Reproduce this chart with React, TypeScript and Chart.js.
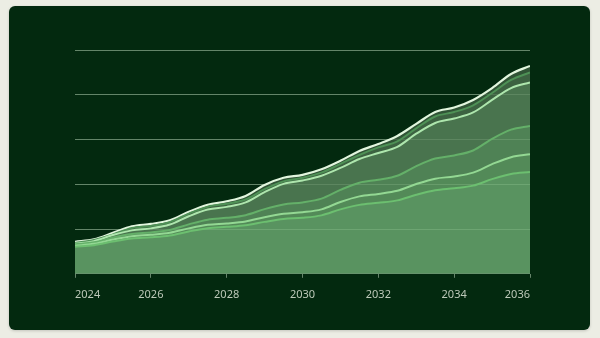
import React, { useEffect, useRef } from "react";
import { Chart, registerables } from "chart.js";

Chart.register(...registerables);

const YEARS = [
  2024, 2024.5, 2025, 2025.5, 2026, 2026.5, 2027, 2027.5, 2028, 2028.5, 2029, 2029.5,
  2030, 2030.5, 2031, 2031.5, 2032, 2032.5, 2033, 2033.5, 2034, 2034.5, 2035, 2035.5, 2036,
];

const SERIES_1 = [12.1, 12.8, 14.4, 15.8, 16.3, 17.1, 18.9, 20.4, 21.0, 21.7, 23.2, 24.5, 25.0, 26.1, 28.8, 30.8, 31.7, 32.8, 35.3, 37.3, 38.2, 39.4, 42.3, 44.6, 45.5];
const SERIES_2 = [12.5, 13.4, 15.3, 16.8, 17.4, 18.3, 20.3, 21.9, 22.5, 23.4, 25.3, 26.8, 27.5, 28.8, 32.1, 34.6, 35.7, 37.1, 40.1, 42.5, 43.5, 45.2, 49.0, 52.1, 53.4];
const SERIES_3 = [13.2, 14.1, 16.2, 17.8, 18.5, 19.6, 22.1, 24.2, 25.0, 26.2, 28.9, 31.0, 31.9, 33.6, 37.5, 40.7, 42.0, 43.8, 48.1, 51.5, 52.9, 55.1, 60.3, 64.4, 66.1];
const SERIES_4 = [13.4, 14.6, 17.3, 19.4, 20.3, 22.0, 25.7, 28.7, 29.9, 31.9, 36.5, 40.2, 41.7, 43.8, 47.3, 51.3, 54.0, 56.7, 62.6, 67.4, 69.4, 72.1, 77.7, 83.0, 85.5];
const SERIES_5 = [13.8, 15.1, 17.6, 20.5, 21.4, 23.1, 26.9, 30.0, 31.3, 33.2, 37.8, 41.3, 42.9, 45.2, 49.1, 53.1, 56.5, 59.2, 65.0, 70.3, 72.3, 75.3, 80.8, 86.6, 90.0];
const SERIES_6 = [14.3, 15.4, 18.3, 21.2, 22.3, 23.9, 27.7, 30.8, 32.4, 34.8, 39.7, 42.9, 44.2, 46.7, 50.5, 54.9, 58.0, 61.6, 67.0, 72.3, 74.3, 77.7, 83.0, 89.3, 92.9];

const SERIES = [SERIES_1, SERIES_2, SERIES_3, SERIES_4, SERIES_5, SERIES_6];
const LINE_COLORS = ["#6cbf70", "#93d893", "#64b069", "#ade6ad", "#4e9156", "#e2f6de"];
const FILL_COLORS = [
  "rgba(111,174,116,0.8)",
  "rgba(104,162,106,0.8)",
  "rgba(99,152,102,0.8)",
  "rgba(91,135,94,0.8)",
  "rgba(75,113,77,0.8)",
  "rgba(60,95,64,0.8)",
];

export default function App() {
  const ref = useRef<HTMLCanvasElement | null>(null);

  useEffect(() => {
    if (!ref.current) return;
    const chart = new Chart(ref.current, {
      type: "line",
      data: {
        datasets: SERIES.map((s, i) => ({
          data: s.map((v, j) => ({ x: YEARS[j], y: v })),
          borderColor: LINE_COLORS[i],
          backgroundColor: FILL_COLORS[i],
          borderWidth: i === 5 ? 2.2 : 2,
          fill: i === 0 ? "origin" : "-1",
          pointRadius: 0,
          cubicInterpolationMode: "monotone",
        })),
      },
      options: {
        animation: false,
        responsive: false,
        maintainAspectRatio: false,
        layout: { padding: { left: 66, right: 60, top: 44, bottom: 19 } },
        plugins: { legend: { display: false }, tooltip: { enabled: false } },
        scales: {
          x: {
            type: "linear",
            min: 2024,
            max: 2036,
            ticks: {
              stepSize: 2,
              align: "inner",
              maxRotation: 0,
              padding: 10,
              color: "#bcc8b8",
              font: { family: "'Noto Sans', sans-serif", size: 11 },
              callback: (v: any) => String(v),
            },
            grid: {
              drawOnChartArea: false,
              drawTicks: true,
              tickLength: 4,
              color: "rgba(170,195,170,0.6)",
            },
            border: { display: false },
          },
          y: {
            min: 0,
            max: 100,
            ticks: { display: false, stepSize: 20 },
            grid: { drawTicks: false, color: "rgba(180,210,180,0.55)", lineWidth: 1 },
            border: { display: false },
          },
        },
      },
    });
    return () => chart.destroy();
  }, []);

  return (
    <div style={{ position: "fixed", inset: 0, background: "#ecede4" }}>
      <div
        style={{
          position: "absolute",
          left: 9,
          top: 6,
          width: 581,
          height: 324,
          background: "#03290f",
          borderRadius: 6,
          boxShadow: "0 1px 3px rgba(0,0,0,0.18)",
        }}
      >
        <canvas ref={ref} width={581} height={324} style={{ display: "block" }} />
      </div>
    </div>
  );
}
